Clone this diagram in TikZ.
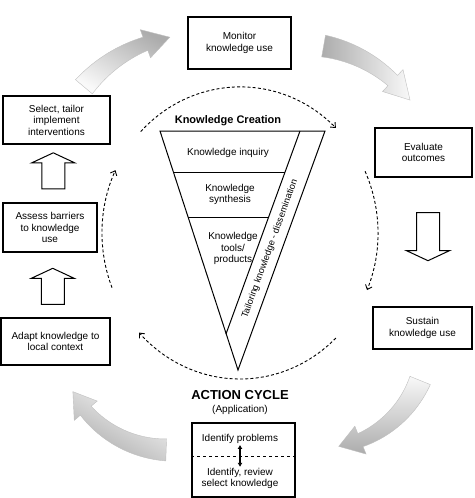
\documentclass[tikz,border=0pt]{standalone}
\usepackage{fontspec}
\setmainfont{Liberation Sans}
\usetikzlibrary{arrows.meta,calc,shapes.arrows}

\tikzset{
	box/.style={draw,line width=1.1pt,align=center,inner sep=1pt,font=\fontsize{10}{11.5}\selectfont},
	txt/.style={align=center,inner sep=1pt,font=\fontsize{10}{11.5}\selectfont},
	cyclearc/.style={line width=0.9pt,dash pattern=on 3pt off 2.2pt,-{Straight Barb[length=4pt,width=7pt]}},
	blockarrow/.style={draw,line width=1pt,single arrow,single arrow head extend=10pt,single arrow tip angle=130,inner xsep=0pt,inner ysep=11pt},
	grayarrow/.style={draw=gray!50,line width=0.4pt,left color=gray!65,right color=gray!5}
}

% centre x, centre y, radius, tail angle, head base angle, tip angle, shading angle
\newcommand{\cyclearrow}[7]{%
	\path[grayarrow,shading angle=#7]
	plot[domain=#4:#5,samples=20] ({#1+(#3+11-4*(\x-(#4))/((#5)-(#4)))*cos(\x)},{#2+(#3+11-4*(\x-(#4))/((#5)-(#4)))*sin(\x)})
	-- ({#1+(#3+15)*cos(#5)},{#2+(#3+15)*sin(#5)})
	-- ({#1+#3*cos(#6)},{#2+#3*sin(#6)})
	-- ({#1+(#3-15)*cos(#5)},{#2+(#3-15)*sin(#5)})
	-- plot[domain=#5:#4,samples=20] ({#1+(#3-11+4*(\x-(#4))/((#5)-(#4)))*cos(\x)},{#2+(#3-11+4*(\x-(#4))/((#5)-(#4)))*sin(\x)})
	-- cycle;
}

\begin{document}
\begin{tikzpicture}[x=1pt,y=1pt]
	
	\useasboundingbox (0,0) rectangle (474,-498);
	
	% action cycle boxes
	\node[box,minimum width=103pt,minimum height=52pt] (monitor) at (239.5,-43) {Monitor\\knowledge use};
	\node[box,minimum width=107pt,minimum height=48pt] (select) at (56.5,-120) {Select, tailor\\implement\\interventions};
	\node[box,minimum width=97pt,minimum height=49pt] (evaluate) at (423.5,-152.5) {Evaluate\\outcomes};
	\node[box,minimum width=94pt,minimum height=49pt] (assess) at (50,-227.5) {Assess barriers\\to knowledge\\use};
	\node[box,minimum width=109pt,minimum height=47pt] (adapt) at (55.5,-341.5) {Adapt knowledge to\\local context};
	\node[box,minimum width=99pt,minimum height=42pt] (sustain) at (422.5,-328) {Sustain\\knowledge use};
	\node[box,minimum width=103pt,minimum height=74pt] (identify) at (243.5,-460) {};
	
	\node[txt] (problems) at (240,-439) {Identify problems};
	\node[txt] (knowledge) at (240,-478.5) {Identify, review\\select knowledge};
	\draw[line width=0.8pt,dashed] ($(identify.west)+(0,4)$) -- ($(identify.east)+(0,4)$);
	\draw[line width=1.2pt,{Latex[length=4pt,width=5pt]}-{Latex[length=4pt,width=5pt]}] (problems) -- (knowledge);
	
	% open arrows
	\node[blockarrow,rotate=90,minimum height=36pt] (up1) at ($(assess.north)!0.5!(select.south)$) {};
	\node[blockarrow,rotate=90,minimum height=36pt] (up2) at ($(adapt.north)!0.5!(assess.south)+(0,-4)$) {};
	\node[blockarrow,rotate=-90,minimum height=48pt] (down1) at ($(evaluate.south)!0.5!(sustain.north)+(5,8)$) {};
	
	% shaded cycle arrows
	\cyclearrow{195}{-180}{145}{140}{110}{100}{-30}
	\cyclearrow{300}{-180}{136}{80}{47}{36}{90}
	\cyclearrow{320}{-340}{108}{-22}{-68}{-80}{180}
	\cyclearrow{170}{-340}{110}{268}{220}{208}{150}
	
	% knowledge creation funnel
	\coordinate (tl) at (160,-131);
	\coordinate (tr) at (325,-131);
	\coordinate (tip) at (238,-370);
	\coordinate (bandtop) at (300,-131);
	\coordinate (bandlow) at (226,-334);
	\draw[line width=1pt] (tl) -- (tr) -- (tip) -- cycle;
	\draw[line width=1pt] (bandtop) -- (bandlow);
	\draw[line width=1pt] (173.4,-172) -- (285,-172);
	\draw[line width=1pt] (188,-217) -- (268.7,-217);
	
	\node[font=\bfseries\fontsize{11}{13}\selectfont] (creation) at (228,-121) {Knowledge Creation};
	\node[txt] (inquiry) at (228,-153) {Knowledge inquiry};
	\node[txt] (synthesis) at (230,-194.5) {Knowledge\\synthesis};
	\node[txt] (tools) at (233,-248.5) {Knowledge\\tools/\\products};
	\node[rotate=70,inner sep=0pt,font=\fontsize{9.3}{11}\selectfont] (tailoring) at (270,-249) {Tailoring knowledge - dissemination};
	
	\node[font=\bfseries\fontsize{13}{15}\selectfont] (action) at (240,-395) {ACTION CYCLE};
	\node[txt] (application) at (240,-410) {(Application)};
	
	% dashed cycle round the funnel
	\coordinate (ctr) at (240,-233);
	\draw[cyclearc] ($(ctr)+(136:138 and 146)$) arc[start angle=136,end angle=46,x radius=138,y radius=146];
	\draw[cyclearc] ($(ctr)+(25:138 and 146)$) arc[start angle=25,end angle=-23,x radius=138,y radius=146];
	\draw[cyclearc] ($(ctr)+(-46:138 and 146)$) arc[start angle=-46,end angle=-137,x radius=138,y radius=146];
	\draw[cyclearc] ($(ctr)+(-158:138 and 146)$) arc[start angle=-158,end angle=-205.5,x radius=138,y radius=146];
	
\end{tikzpicture}
\end{document}
